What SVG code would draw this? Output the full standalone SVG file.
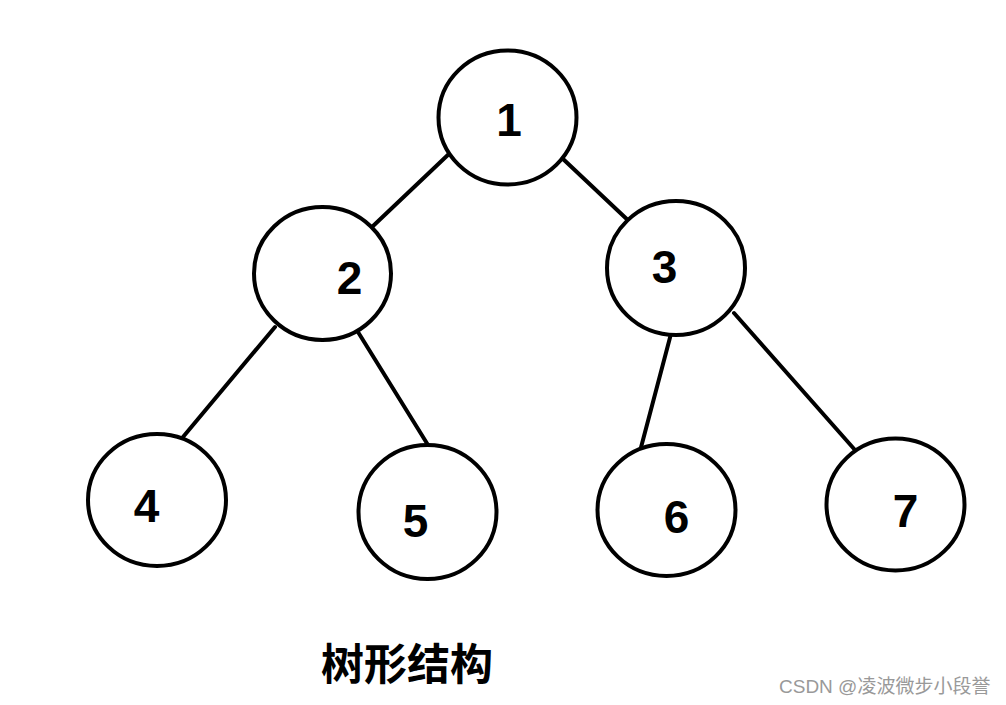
<svg xmlns="http://www.w3.org/2000/svg" width="1006" height="705" viewBox="0 0 1006 705">
<style>
.node{fill:#fff;stroke:#000;stroke-width:4}
.lbl{font-family:"Liberation Sans",Arial,sans-serif;font-weight:bold;font-size:46px;fill:#000;text-anchor:middle}
.edge{stroke:#000;stroke-width:4;stroke-linecap:round;fill:none}
.title{font-family:"Noto Sans CJK SC",sans-serif;font-weight:bold;font-size:43px;fill:#000}
.wm{font-family:"Liberation Sans","Noto Sans CJK SC",sans-serif;font-size:19px;fill:#999}
</style>
<rect width="1006" height="705" fill="#fff"/>
<g id="connectors">
<line class="edge" x1="451" y1="152" x2="372" y2="227"/>
<line class="edge" x1="562" y1="158" x2="632" y2="224"/>
<line class="edge" x1="275" y1="327" x2="183" y2="437"/>
<line class="edge" x1="358" y1="332" x2="428" y2="445"/>
<line class="edge" x1="672" y1="330" x2="639" y2="455"/>
<line class="edge" x1="734" y1="313" x2="855" y2="450"/>
</g>
<g id="node1"><ellipse class="node" cx="507.5" cy="117.5" rx="69" ry="67"/><text class="lbl" x="509" y="136">1</text></g>
<g id="node2"><ellipse class="node" cx="322.5" cy="273.5" rx="68.5" ry="66.5"/><text class="lbl" x="349.5" y="294">2</text></g>
<g id="node3"><ellipse class="node" cx="676" cy="268" rx="69" ry="67"/><text class="lbl" x="664.5" y="283">3</text></g>
<g id="node4"><ellipse class="node" cx="157" cy="500" rx="69" ry="66"/><text class="lbl" x="146.5" y="522">4</text></g>
<g id="node5"><ellipse class="node" cx="427.5" cy="512" rx="69" ry="67"/><text class="lbl" x="415.5" y="537">5</text></g>
<g id="node6"><ellipse class="node" cx="666.5" cy="510" rx="69" ry="66"/><text class="lbl" x="676.5" y="533">6</text></g>
<g id="node7"><ellipse class="node" cx="895.5" cy="504.5" rx="69" ry="66"/><text class="lbl" x="905.5" y="527">7</text></g>
<text class="title" x="321" y="680">树形结构</text>
<text class="wm" x="779" y="693">CSDN @凌波微步小段誉</text>
</svg>
